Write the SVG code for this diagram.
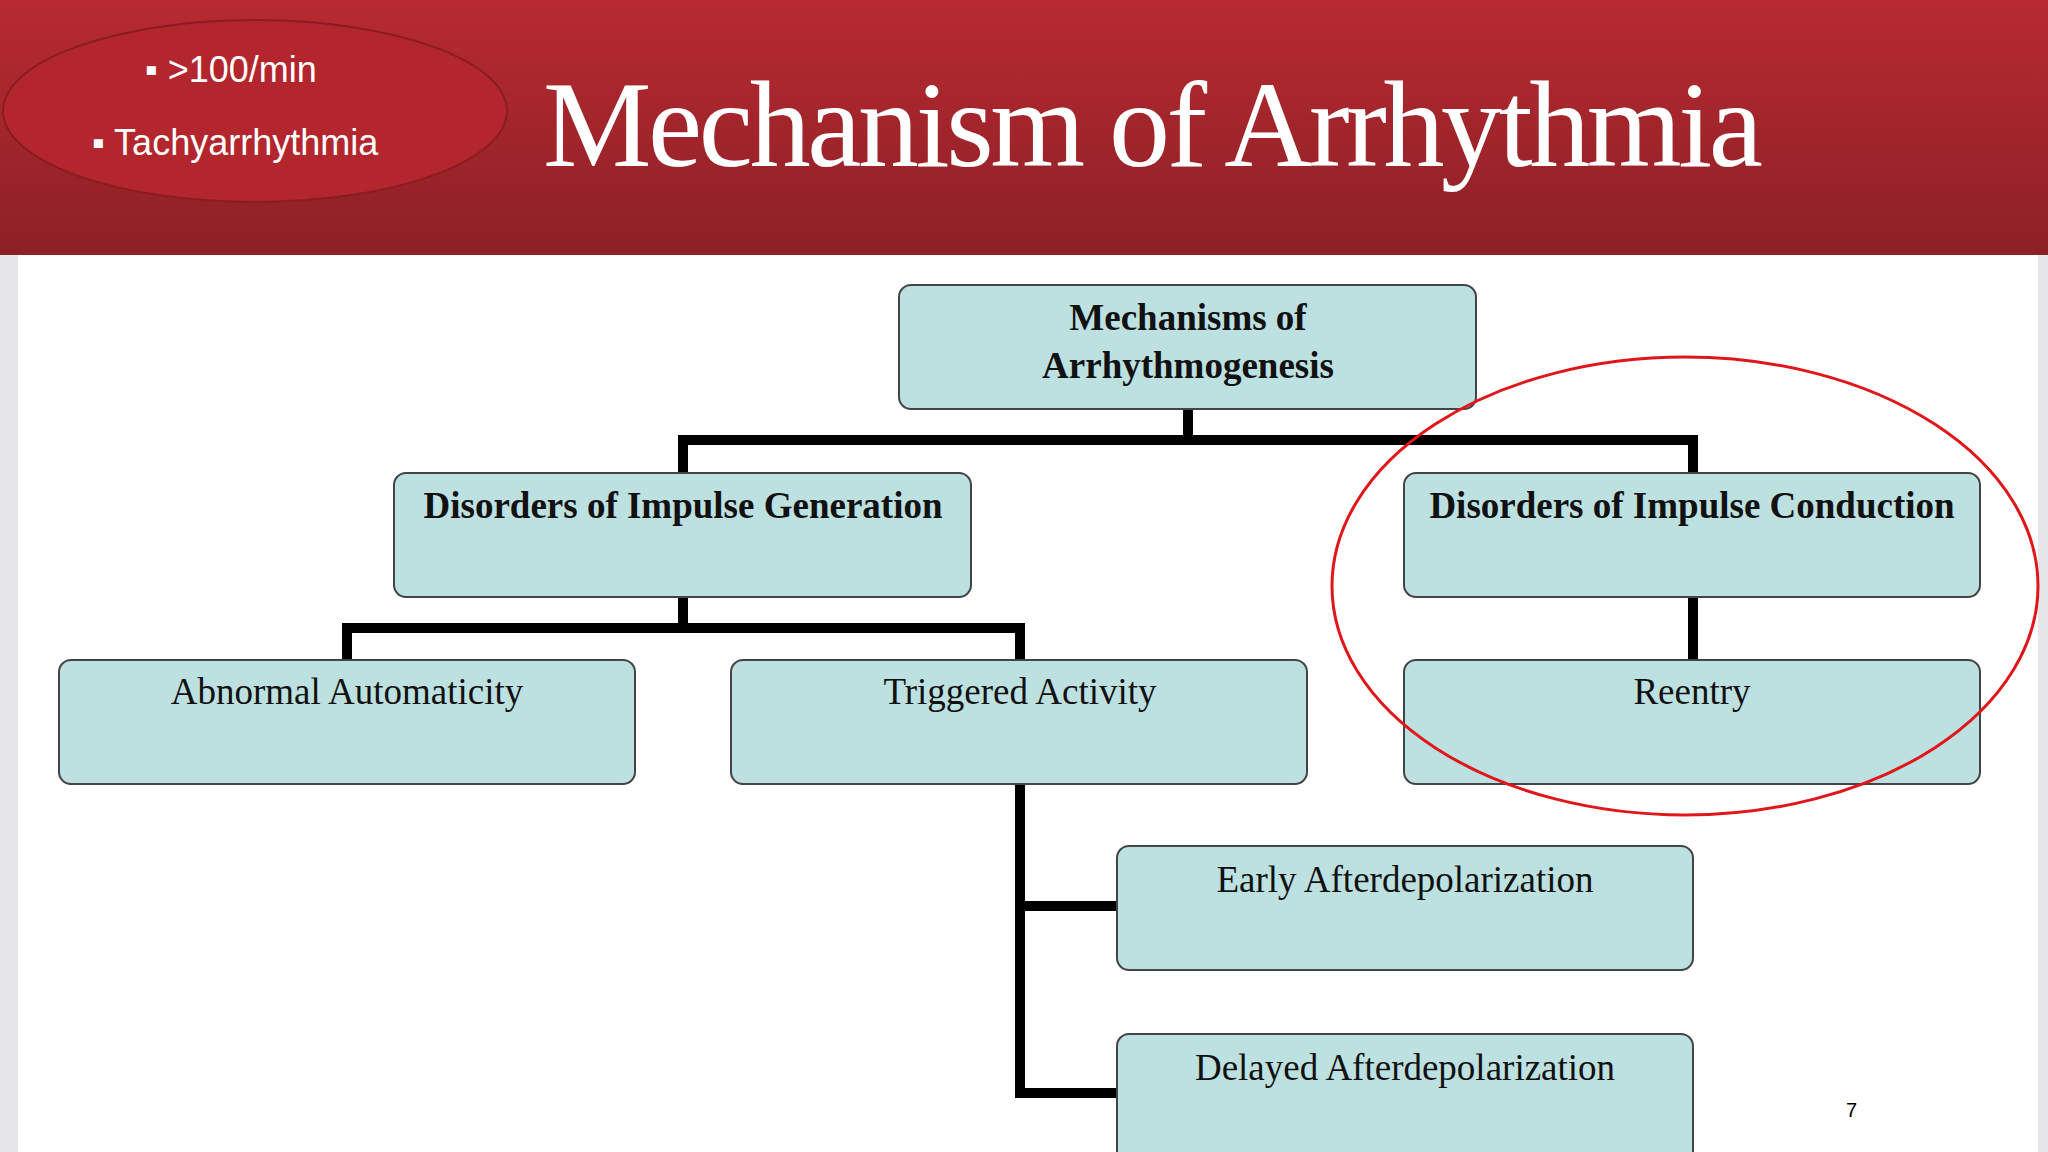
<svg xmlns="http://www.w3.org/2000/svg" width="2048" height="1152" viewBox="0 0 2048 1152">
<defs>
<linearGradient id="hdr" x1="0" y1="0" x2="0" y2="1"><stop offset="0" stop-color="#b82a31"/><stop offset="1" stop-color="#8c2026"/></linearGradient>
<style>
.box{fill:#bde0e0;stroke:#444;stroke-width:2}
.t{font-family:"Liberation Serif",serif;font-size:37px;fill:#111;text-anchor:middle}
.b{font-weight:bold}
.c{stroke:#000;stroke-width:10;fill:none}
</style>
</defs>
<rect width="2048" height="1152" fill="#e6e6ea"/>
<rect x="18" y="250" width="2020" height="902" fill="#fff"/>
<rect width="2048" height="255" fill="url(#hdr)"/>
<ellipse cx="255" cy="111" rx="252" ry="91" fill="#b3262d" stroke="#8a1c22" stroke-width="2"/>
<text x="145" y="82" font-family="Liberation Sans,sans-serif" font-size="36" fill="#fff">▪  &gt;100/min</text>
<text x="92" y="155" font-family="Liberation Sans,sans-serif" font-size="36" fill="#fff">▪  Tachyarrhythmia</text>
<text x="543" y="166" font-family="Liberation Serif,serif" font-size="122" fill="#fff" textLength="1220">Mechanism of Arrhythmia</text>
<g id="connectors">
<path class="c" d="M1188 409V440M683 473V440H1693V473"/>
<path class="c" d="M683 597V628M347 660V628H1020V660"/>
<path class="c" d="M1693 597V660"/>
<path class="c" d="M1020 784V1093H1117M1020 906H1117"/>
</g>
<g id="n-top"><rect class="box" x="899" y="285" width="577" height="124" rx="12"/><text class="t b" x="1188" y="330">Mechanisms of</text><text class="t b" x="1188" y="378">Arrhythmogenesis</text></g>
<g id="n-gen"><rect class="box" x="394" y="473" width="577" height="124" rx="12"/><text class="t b" x="683" y="518">Disorders of Impulse Generation</text></g>
<g id="n-cond"><rect class="box" x="1404" y="473" width="576" height="124" rx="12"/><text class="t b" x="1692" y="518">Disorders of Impulse Conduction</text></g>
<g id="n-abn"><rect class="box" x="59" y="660" width="576" height="124" rx="12"/><text class="t" x="347" y="704">Abnormal Automaticity</text></g>
<g id="n-trig"><rect class="box" x="731" y="660" width="576" height="124" rx="12"/><text class="t" x="1020" y="704">Triggered Activity</text></g>
<g id="n-re"><rect class="box" x="1404" y="660" width="576" height="124" rx="12"/><text class="t" x="1692" y="704">Reentry</text></g>
<g id="n-early"><rect class="box" x="1117" y="846" width="576" height="124" rx="12"/><text class="t" x="1405" y="892">Early Afterdepolarization</text></g>
<g id="n-del"><rect class="box" x="1117" y="1034" width="576" height="130" rx="12"/><text class="t" x="1405" y="1080">Delayed Afterdepolarization</text></g>
<ellipse cx="1685" cy="586" rx="353" ry="229" fill="none" stroke="#e0161a" stroke-width="3"/>
<text x="1846" y="1117" font-family="Liberation Sans,sans-serif" font-size="20" fill="#000">7</text>
</svg>
